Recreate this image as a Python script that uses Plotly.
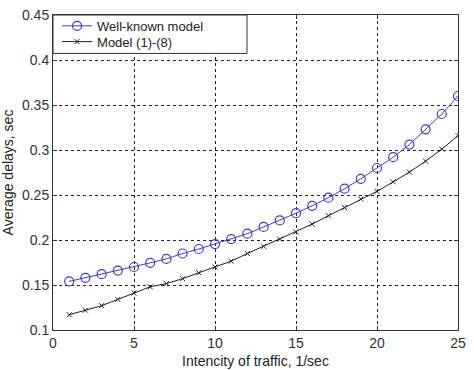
import plotly.graph_objects as go

x_vals = list(range(1, 26))
well_known = [0.154, 0.158, 0.162, 0.166, 0.170, 0.1746, 0.179, 0.185, 0.190, 0.1955,
              0.201, 0.207, 0.2145, 0.2218, 0.2298, 0.238, 0.247, 0.257, 0.268, 0.280,
              0.292, 0.306, 0.323, 0.340, 0.360]
model_1_8 = [0.117, 0.122, 0.127, 0.134, 0.141, 0.148, 0.1516, 0.157, 0.1636, 0.170,
             0.1765, 0.185, 0.193, 0.201, 0.209, 0.2177, 0.227, 0.236, 0.2456, 0.254,
             0.2646, 0.2755, 0.2876, 0.301, 0.316]
x_ticks = [0, 5, 10, 15, 20, 25]
y_ticks = [0.1, 0.15, 0.2, 0.25, 0.3, 0.35, 0.4, 0.45]
y_tick_text = ["0.1", "0.15", "0.2", "0.25", "0.3", "0.35", "0.4", "0.45"]

fig = go.Figure()
fig.add_trace(go.Scatter(
    x=x_vals, y=well_known, mode="lines+markers", name="Well-known model",
    legend="legend",
    line=dict(color="#3c3cc8", width=1),
    marker=dict(symbol="circle-open", size=9, color="#3c3cc8", line=dict(width=1.2)),
))
fig.add_trace(go.Scatter(
    x=x_vals, y=model_1_8, mode="lines+markers", name="Model (1)-(8)",
    legend="legend2",
    line=dict(color="#222222", width=1),
    marker=dict(symbol="x-thin-open", size=5, color="#222222", line=dict(width=1)),
))

axis_common = dict(
    showline=True, linecolor="#333333", linewidth=1, mirror="ticks",
    ticks="inside", ticklen=4, tickcolor="#333333",
    showgrid=True, gridcolor="#222222", griddash="dot", gridwidth=1,
    zeroline=False, tickfont=dict(size=14, color="#333333"), automargin=False,
)

fig.update_xaxes(range=[0, 25], tickvals=x_ticks,
                 title=dict(text="Intencity of traffic, 1/sec", font=dict(size=14, color="#222222"), standoff=6),
                 **axis_common)
fig.update_yaxes(range=[0.1, 0.45], tickvals=y_ticks, ticktext=y_tick_text,
                 title=dict(text="Average delays, sec", font=dict(size=14, color="#222222"), standoff=8),
                 **axis_common)

# legend frame (MATLAB-style box, wider than the text)
fig.add_shape(type="rect", xref="paper", yref="paper",
              x0=0, x1=0.479, y0=0.878, y1=1,
              line=dict(color="#333333", width=1), fillcolor="white", layer="above")

leg_common = dict(xanchor="left", yanchor="middle", bgcolor="rgba(0,0,0,0)",
                  borderwidth=0, font=dict(size=13), itemwidth=30)

fig.update_layout(
    width=474, height=370,
    margin=dict(l=53, r=16, t=11, b=40),
    paper_bgcolor="white", plot_bgcolor="white",
    font=dict(family="Liberation Sans, Arial, sans-serif", size=14, color="#222222"),
    showlegend=True,
    legend=dict(x=0.010, y=0.9655, **leg_common),
    legend2=dict(x=0.010, y=0.9154, **leg_common),
)

fig.write_html("out.html", config={"displayModeBar": False},
               post_script="document.body.style.margin='0';document.body.style.overflow='hidden';")
